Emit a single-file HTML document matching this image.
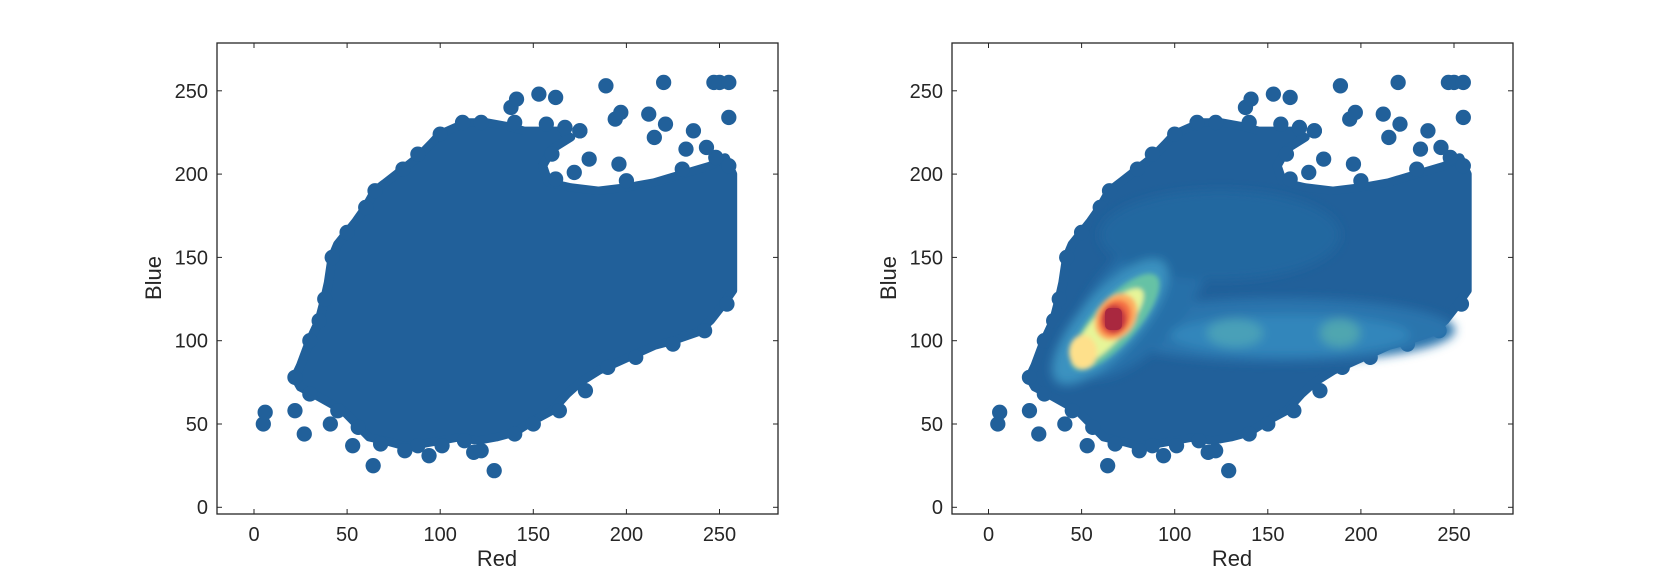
<!DOCTYPE html>
<html><head><meta charset="utf-8"><style>
body{margin:0;background:#fff;}
svg{display:block;font-family:"Liberation Sans",Arial,sans-serif;}
</style></head><body>
<svg width="1667" height="573" viewBox="0 0 1667 573" xmlns="http://www.w3.org/2000/svg">
<defs>
<g id="blob">
<polygon points="22,78 25,85 30,100 35,112 38,125 40,135 42,150 45,158 50,165 55,172 60,180 65,190 72,196 80,203 88,210 95,218 100,224 108,228 115,231 125,231 135,229 145,226 155,226 165,226 170,222 160,215 155,205 158,195 170,192 185,190 200,192 215,195 230,200 245,205 253,210 257,200 257,130 252,122 245,112 238,105 225,100 215,97 205,92 195,87 185,82 175,75 168,68 160,58 150,52 140,45 130,42 120,40 110,42 100,40 90,38 80,37 70,40 62,42 55,50 48,58 40,63 32,68 25,72" fill="#21609a" stroke="#21609a" stroke-width="5" stroke-linejoin="round"/>
<g fill="#21609a">
<ellipse cx="22" cy="78" rx="4.1" ry="4.6"/><ellipse cx="30" cy="100" rx="4.1" ry="4.6"/><ellipse cx="35" cy="112" rx="4.1" ry="4.6"/><ellipse cx="38" cy="125" rx="4.1" ry="4.6"/><ellipse cx="42" cy="150" rx="4.1" ry="4.6"/><ellipse cx="50" cy="165" rx="4.1" ry="4.6"/><ellipse cx="60" cy="180" rx="4.1" ry="4.6"/><ellipse cx="65" cy="190" rx="4.1" ry="4.6"/><ellipse cx="80" cy="203" rx="4.1" ry="4.6"/><ellipse cx="88" cy="212" rx="4.1" ry="4.6"/><ellipse cx="100" cy="224" rx="4.1" ry="4.6"/><ellipse cx="112" cy="231" rx="4.1" ry="4.6"/><ellipse cx="122" cy="231" rx="4.1" ry="4.6"/><ellipse cx="140" cy="231" rx="4.1" ry="4.6"/><ellipse cx="157" cy="230" rx="4.1" ry="4.6"/><ellipse cx="167" cy="228" rx="4.1" ry="4.6"/><ellipse cx="175" cy="226" rx="4.1" ry="4.6"/><ellipse cx="160" cy="212" rx="4.1" ry="4.6"/><ellipse cx="162" cy="197" rx="4.1" ry="4.6"/><ellipse cx="200" cy="196" rx="4.1" ry="4.6"/><ellipse cx="230" cy="203" rx="4.1" ry="4.6"/><ellipse cx="248" cy="210" rx="4.1" ry="4.6"/><ellipse cx="255" cy="205" rx="4.1" ry="4.6"/><ellipse cx="254" cy="122" rx="4.1" ry="4.6"/><ellipse cx="242" cy="106" rx="4.1" ry="4.6"/><ellipse cx="225" cy="98" rx="4.1" ry="4.6"/><ellipse cx="205" cy="90" rx="4.1" ry="4.6"/><ellipse cx="190" cy="84" rx="4.1" ry="4.6"/><ellipse cx="178" cy="70" rx="4.1" ry="4.6"/><ellipse cx="164" cy="58" rx="4.1" ry="4.6"/><ellipse cx="150" cy="50" rx="4.1" ry="4.6"/><ellipse cx="140" cy="44" rx="4.1" ry="4.6"/><ellipse cx="113" cy="40" rx="4.1" ry="4.6"/><ellipse cx="88" cy="37" rx="4.1" ry="4.6"/><ellipse cx="68" cy="38" rx="4.1" ry="4.6"/><ellipse cx="56" cy="48" rx="4.1" ry="4.6"/><ellipse cx="45" cy="58" rx="4.1" ry="4.6"/><ellipse cx="30" cy="68" rx="4.1" ry="4.6"/>
<ellipse cx="5" cy="50" rx="4.1" ry="4.6"/><ellipse cx="6" cy="57" rx="4.1" ry="4.6"/><ellipse cx="22" cy="58" rx="4.1" ry="4.6"/><ellipse cx="27" cy="44" rx="4.1" ry="4.6"/><ellipse cx="41" cy="50" rx="4.1" ry="4.6"/><ellipse cx="53" cy="37" rx="4.1" ry="4.6"/><ellipse cx="64" cy="25" rx="4.1" ry="4.6"/><ellipse cx="94" cy="31" rx="4.1" ry="4.6"/><ellipse cx="81" cy="34" rx="4.1" ry="4.6"/><ellipse cx="101" cy="37" rx="4.1" ry="4.6"/><ellipse cx="118" cy="33" rx="4.1" ry="4.6"/><ellipse cx="122" cy="34" rx="4.1" ry="4.6"/><ellipse cx="129" cy="22" rx="4.1" ry="4.6"/><ellipse cx="138" cy="240" rx="4.1" ry="4.6"/><ellipse cx="141" cy="245" rx="4.1" ry="4.6"/><ellipse cx="153" cy="248" rx="4.1" ry="4.6"/><ellipse cx="162" cy="246" rx="4.1" ry="4.6"/><ellipse cx="175" cy="226" rx="4.1" ry="4.6"/><ellipse cx="180" cy="209" rx="4.1" ry="4.6"/><ellipse cx="189" cy="253" rx="4.1" ry="4.6"/><ellipse cx="194" cy="233" rx="4.1" ry="4.6"/><ellipse cx="197" cy="237" rx="4.1" ry="4.6"/><ellipse cx="212" cy="236" rx="4.1" ry="4.6"/><ellipse cx="215" cy="222" rx="4.1" ry="4.6"/><ellipse cx="220" cy="255" rx="4.1" ry="4.6"/><ellipse cx="221" cy="230" rx="4.1" ry="4.6"/><ellipse cx="236" cy="226" rx="4.1" ry="4.6"/><ellipse cx="247" cy="255" rx="4.1" ry="4.6"/><ellipse cx="250" cy="255" rx="4.1" ry="4.6"/><ellipse cx="255" cy="255" rx="4.1" ry="4.6"/><ellipse cx="255" cy="234" rx="4.1" ry="4.6"/><ellipse cx="232" cy="215" rx="4.1" ry="4.6"/><ellipse cx="243" cy="216" rx="4.1" ry="4.6"/><ellipse cx="196" cy="206" rx="4.1" ry="4.6"/><ellipse cx="172" cy="201" rx="4.1" ry="4.6"/>
</g>
</g>
<filter id="bl" x="-50%" y="-50%" width="200%" height="200%"><feGaussianBlur stdDeviation="5"/></filter>
<filter id="bl2" x="-50%" y="-50%" width="200%" height="200%"><feGaussianBlur stdDeviation="2.5"/></filter>
</defs>

<!-- LEFT -->
<g transform="translate(254,507.3) scale(1.862,-1.666)"><use href="#blob"/></g>
<rect x="217" y="43" width="561" height="471" fill="none" stroke="#262626" stroke-width="1.3"/>
<g stroke="#262626" stroke-width="1">
<line x1="254" y1="514" x2="254" y2="509"/><line x1="347.1" y1="514" x2="347.1" y2="509"/><line x1="440.2" y1="514" x2="440.2" y2="509"/><line x1="533.3" y1="514" x2="533.3" y2="509"/><line x1="626.4" y1="514" x2="626.4" y2="509"/><line x1="719.5" y1="514" x2="719.5" y2="509"/>
<line x1="254" y1="43" x2="254" y2="48"/><line x1="347.1" y1="43" x2="347.1" y2="48"/><line x1="440.2" y1="43" x2="440.2" y2="48"/><line x1="533.3" y1="43" x2="533.3" y2="48"/><line x1="626.4" y1="43" x2="626.4" y2="48"/><line x1="719.5" y1="43" x2="719.5" y2="48"/>
<line x1="217" y1="507.3" x2="222" y2="507.3"/><line x1="217" y1="424" x2="222" y2="424"/><line x1="217" y1="340.7" x2="222" y2="340.7"/><line x1="217" y1="257.4" x2="222" y2="257.4"/><line x1="217" y1="174.1" x2="222" y2="174.1"/><line x1="217" y1="90.8" x2="222" y2="90.8"/>
<line x1="778" y1="507.3" x2="773" y2="507.3"/><line x1="778" y1="424" x2="773" y2="424"/><line x1="778" y1="340.7" x2="773" y2="340.7"/><line x1="778" y1="257.4" x2="773" y2="257.4"/><line x1="778" y1="174.1" x2="773" y2="174.1"/><line x1="778" y1="90.8" x2="773" y2="90.8"/>
</g>
<g font-size="20" fill="#262626" text-anchor="middle">
<text x="254" y="541">0</text><text x="347.1" y="541">50</text><text x="440.2" y="541">100</text><text x="533.3" y="541">150</text><text x="626.4" y="541">200</text><text x="719.5" y="541">250</text>
</g>
<g font-size="20" fill="#262626" text-anchor="end">
<text x="208" y="514">0</text><text x="208" y="431">50</text><text x="208" y="347.7">100</text><text x="208" y="264.4">150</text><text x="208" y="181.1">200</text><text x="208" y="97.8">250</text>
</g>
<text x="497" y="566" font-size="22" fill="#262626" text-anchor="middle">Red</text>
<text transform="translate(161,278) rotate(-90)" font-size="22" fill="#262626" text-anchor="middle">Blue</text>

<!-- RIGHT -->
<g transform="translate(988.5,507.3) scale(1.862,-1.666)"><use href="#blob"/></g>
<g filter="url(#bl)">
<ellipse cx="1280" cy="330" rx="175" ry="32" fill="#2a74ad"/>
<ellipse cx="1140" cy="300" rx="45" ry="95" transform="rotate(40 1140 300)" fill="#2870a9"/>
<ellipse cx="1220" cy="235" rx="120" ry="45" fill="#2468a0"/>
<ellipse cx="1290" cy="335" rx="120" ry="20" fill="#3286bb"/>
<ellipse cx="1110" cy="322" rx="30" ry="80" transform="rotate(42 1110 322)" fill="#3a92c0"/>
<ellipse cx="1235" cy="333" rx="28" ry="14" fill="#4aa0b8"/>
<ellipse cx="1340" cy="333" rx="20" ry="14" fill="#4fa6b0"/>
</g>
<g filter="url(#bl2)">
<ellipse cx="1115" cy="322" rx="22" ry="62" transform="rotate(42 1115 322)" fill="#66c2a5"/>
<ellipse cx="1108" cy="327" rx="16" ry="50" transform="rotate(42 1108 327)" fill="#e6f598"/>
<ellipse cx="1083" cy="352" rx="14" ry="17" fill="#fee08b"/>
<ellipse cx="1116" cy="317" rx="19" ry="25" transform="rotate(35 1116 317)" fill="#fdae61"/>
<ellipse cx="1115" cy="318" rx="15" ry="19" transform="rotate(30 1115 318)" fill="#f46d43"/>
<ellipse cx="1114" cy="319" rx="12" ry="14" fill="#c0303f"/>
</g>
<rect x="1105" y="308" width="17" height="22" rx="5" fill="#a9283f"/>
<rect x="952" y="43" width="561" height="471" fill="none" stroke="#262626" stroke-width="1.3"/>
<g stroke="#262626" stroke-width="1">
<line x1="988.5" y1="514" x2="988.5" y2="509"/><line x1="1081.6" y1="514" x2="1081.6" y2="509"/><line x1="1174.7" y1="514" x2="1174.7" y2="509"/><line x1="1267.8" y1="514" x2="1267.8" y2="509"/><line x1="1360.9" y1="514" x2="1360.9" y2="509"/><line x1="1454" y1="514" x2="1454" y2="509"/>
<line x1="988.5" y1="43" x2="988.5" y2="48"/><line x1="1081.6" y1="43" x2="1081.6" y2="48"/><line x1="1174.7" y1="43" x2="1174.7" y2="48"/><line x1="1267.8" y1="43" x2="1267.8" y2="48"/><line x1="1360.9" y1="43" x2="1360.9" y2="48"/><line x1="1454" y1="43" x2="1454" y2="48"/>
<line x1="952" y1="507.3" x2="957" y2="507.3"/><line x1="952" y1="424" x2="957" y2="424"/><line x1="952" y1="340.7" x2="957" y2="340.7"/><line x1="952" y1="257.4" x2="957" y2="257.4"/><line x1="952" y1="174.1" x2="957" y2="174.1"/><line x1="952" y1="90.8" x2="957" y2="90.8"/>
<line x1="1513" y1="507.3" x2="1508" y2="507.3"/><line x1="1513" y1="424" x2="1508" y2="424"/><line x1="1513" y1="340.7" x2="1508" y2="340.7"/><line x1="1513" y1="257.4" x2="1508" y2="257.4"/><line x1="1513" y1="174.1" x2="1508" y2="174.1"/><line x1="1513" y1="90.8" x2="1508" y2="90.8"/>
</g>
<g font-size="20" fill="#262626" text-anchor="middle">
<text x="988.5" y="541">0</text><text x="1081.6" y="541">50</text><text x="1174.7" y="541">100</text><text x="1267.8" y="541">150</text><text x="1360.9" y="541">200</text><text x="1454" y="541">250</text>
</g>
<g font-size="20" fill="#262626" text-anchor="end">
<text x="943" y="514">0</text><text x="943" y="431">50</text><text x="943" y="347.7">100</text><text x="943" y="264.4">150</text><text x="943" y="181.1">200</text><text x="943" y="97.8">250</text>
</g>
<text x="1232" y="566" font-size="22" fill="#262626" text-anchor="middle">Red</text>
<text transform="translate(896,278) rotate(-90)" font-size="22" fill="#262626" text-anchor="middle">Blue</text>
</svg>
</body></html>
